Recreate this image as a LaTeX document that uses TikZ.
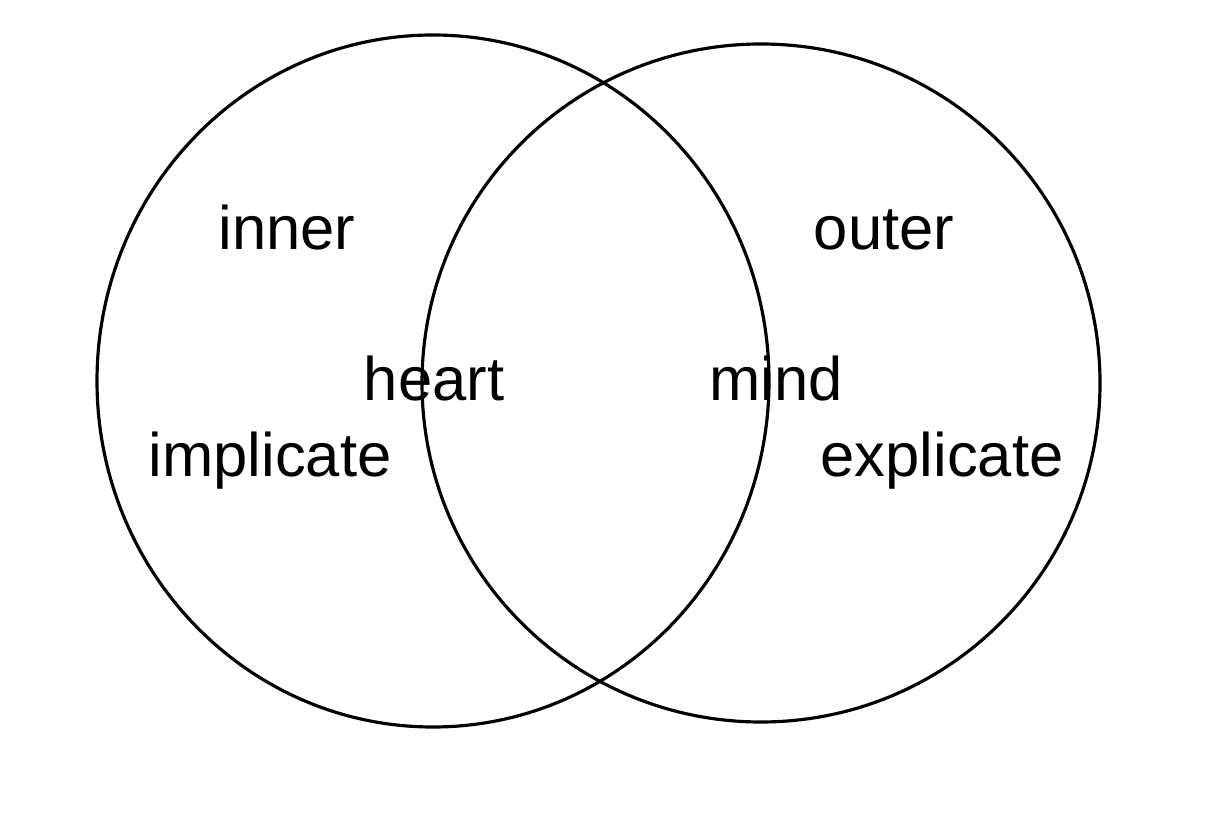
\documentclass[tikz,border=0pt]{standalone}
\usepackage{fontspec}
\setmainfont{Liberation Sans}
\begin{document}
\begin{tikzpicture}[x=0.01cm,y=-0.01cm,
  ring/.style={draw=black,line width=0.9pt},
  lab/.style={font=\fontsize{17.5}{20}\selectfont,inner sep=0pt,anchor=base}]
\useasboundingbox (0,0) rectangle (1228,813);
\draw[ring] (433,381) ellipse [x radius=336, y radius=346];
\draw[ring] (761,383) ellipse [x radius=339, y radius=339];
\node[lab] (inner) at (287,250) {inner};
\node[lab] (outer) at (884,250) {outer};
\node[lab] (heart) at (434,401) {heart};
\node[lab] (mind) at (776,401) {mind};
\node[lab] (implicate) at (270,477) {implicate};
\node[lab] (explicate) at (942,477) {explicate};
\end{tikzpicture}
\end{document}
